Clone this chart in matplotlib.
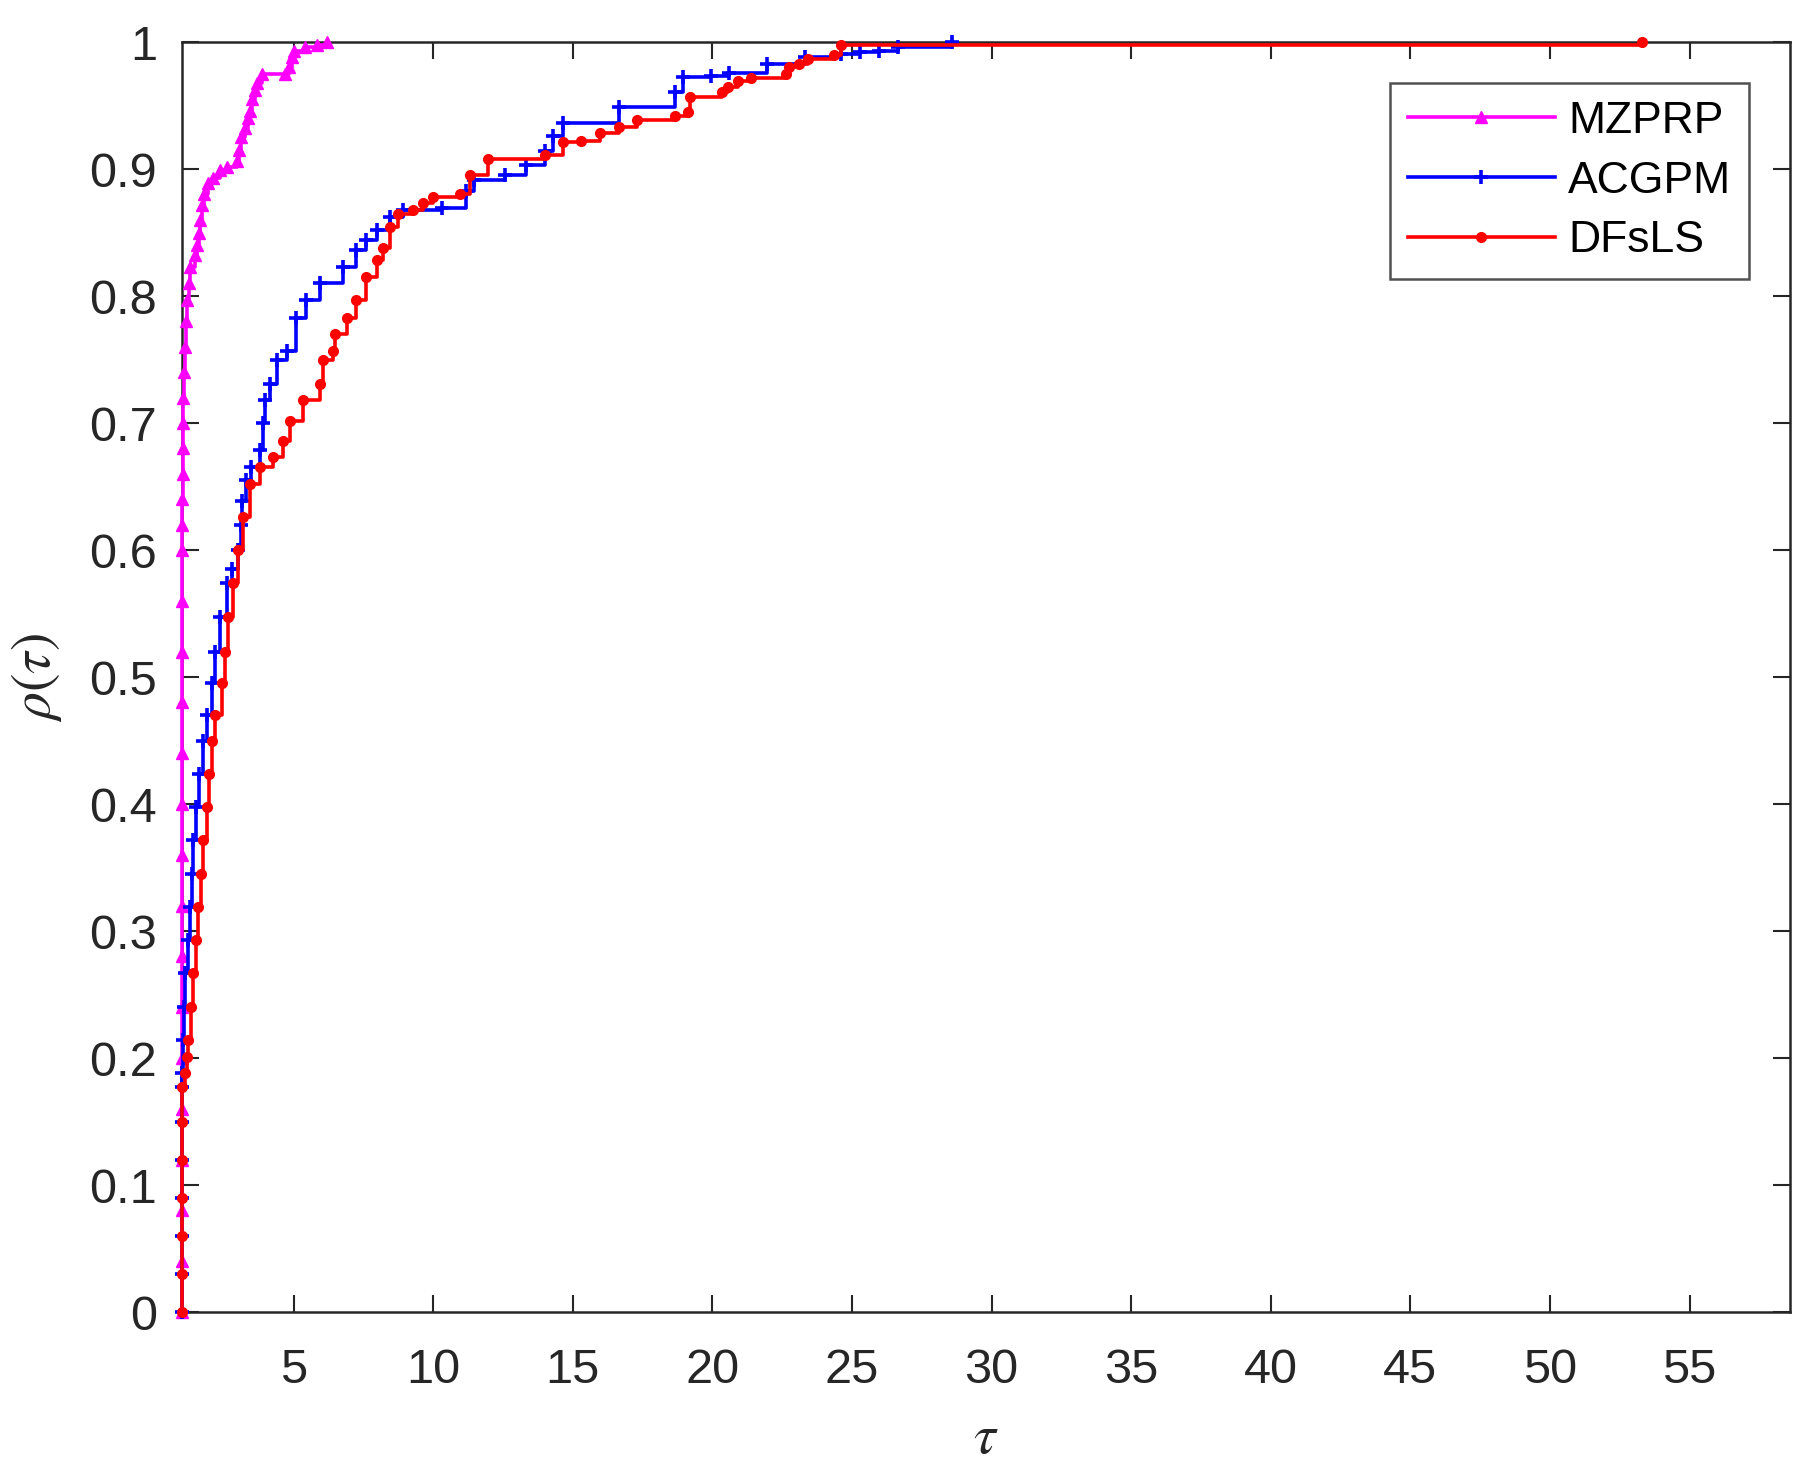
import matplotlib
matplotlib.use("Agg")
import matplotlib.pyplot as plt

# performance profile break points (tau, rho)
mzprp_tau = [1.0, 1.0, 1.0, 1.0, 1.0, 1.0, 1.0, 1.0, 1.0, 1.0, 1.0, 1.0, 1.0,
             1.0, 1.0, 1.0, 1.0, 1.01, 1.02, 1.03, 1.04, 1.05, 1.08, 1.1, 1.13,
             1.17, 1.25, 1.3, 1.45, 1.53, 1.6, 1.66, 1.72, 1.8, 1.93,
             2.1, 2.36, 2.6, 2.96, 3.05, 3.1, 3.25, 3.35, 3.43, 3.5, 3.6, 3.7,
             3.85, 4.7, 4.85, 4.95, 5.0, 5.4, 5.82, 6.18]
mzprp_rho = [0.0, 0.04, 0.08, 0.12, 0.16, 0.2, 0.24, 0.28, 0.32, 0.36, 0.4,
             0.44, 0.48, 0.52, 0.56, 0.6, 0.62, 0.64, 0.66, 0.68, 0.70, 0.72,
             0.74, 0.76, 0.78, 0.797, 0.81, 0.823, 0.832, 0.84, 0.85,
             0.86, 0.872, 0.88, 0.889, 0.893, 0.899, 0.902, 0.906, 0.915,
             0.925, 0.932, 0.94, 0.946, 0.955, 0.962, 0.968, 0.975, 0.975,
             0.98, 0.988, 0.993, 0.996, 0.998, 1.0]

acgpm_tau = [1.0, 1.0, 1.0, 1.0, 1.0, 1.0, 1.0, 1.0, 1.02, 1.07, 1.11, 1.23,
             1.29, 1.35, 1.4, 1.5, 1.62, 1.76, 1.9, 2.06, 2.2, 2.36, 2.6, 2.8,
             3.02, 3.1, 3.14, 3.3, 3.49, 3.79, 3.9, 3.97, 4.15, 4.39, 4.75,
             5.1, 5.46, 5.94, 6.76, 7.25, 7.6, 7.97, 8.44, 8.9, 10.3, 11.19,
             11.45, 12.56, 13.31, 13.99, 14.29, 14.65, 16.64, 18.65, 18.94,
             19.96, 20.61, 21.95, 23.3, 24.6, 25.27, 25.96, 26.64, 28.6]
acgpm_rho = [0.0, 0.03, 0.06, 0.09, 0.12, 0.15, 0.177, 0.188, 0.214, 0.24,
             0.267, 0.293, 0.319, 0.345, 0.372, 0.398, 0.424, 0.45, 0.47,
             0.495, 0.52, 0.547, 0.574, 0.585, 0.6, 0.62, 0.639, 0.655, 0.665,
             0.679, 0.7, 0.718, 0.731, 0.75, 0.757, 0.783, 0.797, 0.81, 0.823,
             0.836, 0.844, 0.852, 0.862, 0.868, 0.869, 0.883, 0.891, 0.895,
             0.903, 0.914, 0.926, 0.9365, 0.949, 0.961, 0.9727, 0.973, 0.9758,
             0.9824, 0.988, 0.9905, 0.992, 0.993, 0.9963, 1.0]

dfsls_tau = [1.0, 1.0, 1.0, 1.0, 1.0, 1.0, 1.01, 1.11, 1.17, 1.23, 1.31, 1.38,
             1.5, 1.58, 1.67, 1.76, 1.88, 1.98, 2.07, 2.2, 2.42, 2.55, 2.66,
             2.84, 3.02, 3.2, 3.43, 3.79, 4.27, 4.63, 4.87, 5.34, 5.94, 6.06,
             6.4, 6.48, 6.9, 7.25, 7.6, 7.97, 8.2, 8.44, 8.74, 9.27, 9.63,
             9.98, 10.95, 11.3, 11.95, 14.0, 14.65, 15.3, 15.99, 16.64, 17.31,
             18.65, 19.12, 19.2, 20.35, 20.55, 20.91, 21.39, 22.62, 22.76,
             23.1, 23.42, 24.37, 24.61, 53.3]
dfsls_rho = [0.0, 0.03, 0.06, 0.09, 0.12, 0.15, 0.177, 0.188, 0.201, 0.214,
             0.24, 0.267, 0.293, 0.319, 0.345, 0.372, 0.398, 0.424, 0.45, 0.47,
             0.495, 0.52, 0.547, 0.574, 0.6, 0.626, 0.652, 0.665, 0.673, 0.686,
             0.702, 0.718, 0.731, 0.75, 0.757, 0.77, 0.783, 0.797, 0.815,
             0.828, 0.838, 0.854, 0.865, 0.868, 0.873, 0.878, 0.88, 0.895,
             0.908, 0.911, 0.921, 0.922, 0.928, 0.933, 0.9386, 0.942, 0.945,
             0.957, 0.961, 0.965, 0.969, 0.972, 0.975, 0.98, 0.983, 0.9863,
             0.99, 0.9976, 1.0]

x_ticks = [5, 10, 15, 20, 25, 30, 35, 40, 45, 50, 55]
y_ticks = [0, 0.1, 0.2, 0.3, 0.4, 0.5, 0.6, 0.7, 0.8, 0.9, 1.0]
y_ticklabels = ['0', '0.1', '0.2', '0.3', '0.4', '0.5', '0.6', '0.7', '0.8', '0.9', '1']

plt.rcParams['font.family'] = ['Liberation Sans', 'DejaVu Sans']
plt.rcParams['mathtext.fontset'] = 'stix'

dark = '#262626'
fig = plt.figure(figsize=(18.18, 14.81), dpi=100)
ax = fig.add_axes([0.1001, 0.1141, 0.8845, 0.8575])

# markers drawn unclipped and above the box, as in the MATLAB export
ax.plot(mzprp_tau, mzprp_rho, color='#FF00FF', lw=2.6, drawstyle='steps-post',
        marker='^', ms=8, mfc='#FF00FF', mec='#FF00FF', label='MZPRP',
        clip_on=False, zorder=4)
ax.plot(acgpm_tau, acgpm_rho, color='#0000FF', lw=2.6, drawstyle='steps-post',
        marker='+', ms=10, mew=2.6, mec='#0000FF', label='ACGPM',
        clip_on=False, zorder=4)
ax.plot(dfsls_tau, dfsls_rho, color='#FF0000', lw=2.6, drawstyle='steps-post',
        marker='o', ms=7, mfc='#FF0000', mec='#FF0000', label='DFsLS',
        clip_on=False, zorder=4)

ax.set_xlim(1, 58.6)
ax.set_ylim(0, 1)
ax.set_xticks(x_ticks)
ax.set_yticks(y_ticks)
ax.set_yticklabels(y_ticklabels)

for s in ax.spines.values():
    s.set_linewidth(1.8)
    s.set_color(dark)
ax.tick_params(direction='in', length=12, width=1.5, colors=dark,
               labelsize=35, top=True, right=True)
ax.tick_params(axis='x', pad=26)
ax.tick_params(axis='y', pad=18)

ax.set_xlabel(r'$\tau$', fontsize=40, color=dark, labelpad=14)
ax.set_ylabel(r'$\rho(\tau)$', fontsize=40, color=dark, labelpad=18)

leg = ax.legend(loc='upper right', bbox_to_anchor=(0.9745, 0.9677),
                borderaxespad=0, fontsize=32, fancybox=False, numpoints=1,
                handlelength=3.3, handletextpad=0.3, labelspacing=0.42,
                borderpad=0.4)
leg.get_frame().set_edgecolor(dark)
leg.get_frame().set_linewidth(1.8)
leg.set_zorder(5)
for t in leg.get_texts():
    t.set_color('black')

fig.savefig('out.png', dpi=100)
